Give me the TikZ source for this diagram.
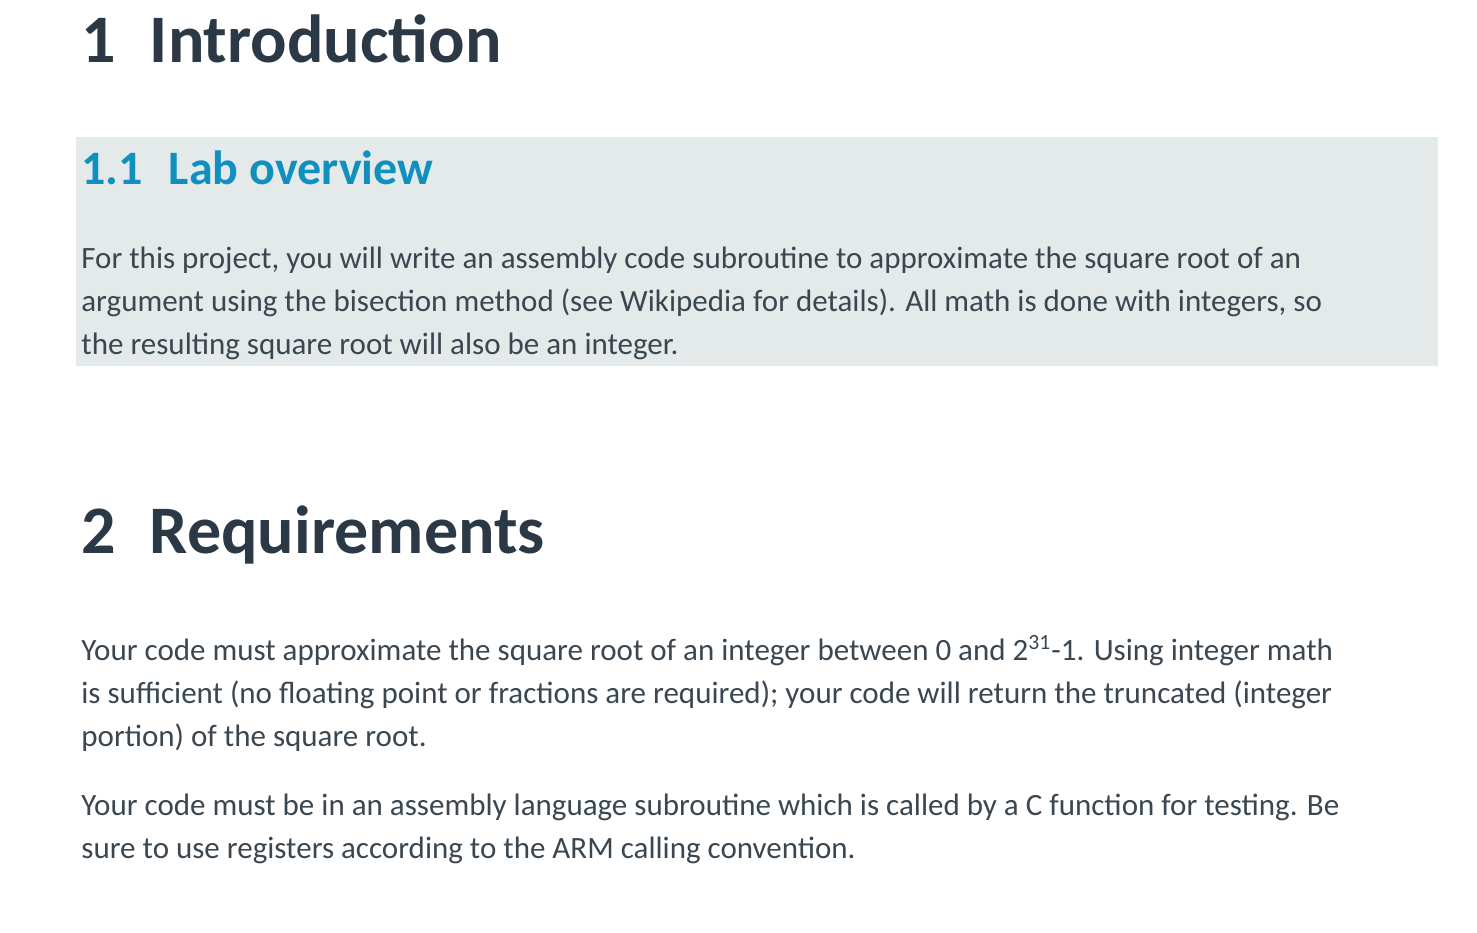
\documentclass[tikz,border=0pt]{standalone}
\usepackage{fontspec}
\setmainfont{Carlito}
\definecolor{headc}{HTML}{2B3845}
\definecolor{subc}{HTML}{1090BF}
\definecolor{boxc}{HTML}{E4EAEA}
\definecolor{txtc}{HTML}{3A4650}
\begin{document}
\begin{tikzpicture}[x=0.5pt,y=-0.5pt,
  body/.style={anchor=base west,inner sep=0pt,text=txtc,font=\fontsize{15.5}{18}\selectfont},
  h1/.style={anchor=base west,inner sep=0pt,text=headc,font=\fontsize{34}{40}\bfseries\selectfont},
  h2/.style={anchor=base west,inner sep=0pt,text=subc,font=\fontsize{24}{28}\bfseries\selectfont}]
\useasboundingbox (0,0) rectangle (1477,932);
\fill[boxc] (76,137) rectangle (1438,366);
\node[h1] (t1) at (81,62) {1\hspace{17pt}Introduction};
\node[h2] (t11) at (81,184) {1.1\hspace{13pt}Lab overview};
\node[body] (p1) at (81,268) {For this project, you will write an assembly code subroutine to approximate the square root of an};
\node[body] (p2) at (81,311) {argument using the bisection method (see Wikipedia for details). All math is done with integers, so};
\node[body] (p3) at (81,354) {the resulting square root will also be an integer.};
\node[h1] (t2) at (81,553) {2\hspace{17pt}Requirements};
\node[body] (r1) at (81,660) {Your code must approximate the square root of an integer between 0 and 2\textsuperscript{31}-1. Using integer math};
\node[body] (r2) at (81,703) {is sufficient (no floating point or fractions are required); your code will return the truncated (integer};
\node[body] (r3) at (81,746) {portion) of the square root.};
\node[body] (r4) at (81,815) {Your code must be in an assembly language subroutine which is called by a C function for testing. Be};
\node[body] (r5) at (81,858) {sure to use registers according to the ARM calling convention.};
\end{tikzpicture}
\end{document}
